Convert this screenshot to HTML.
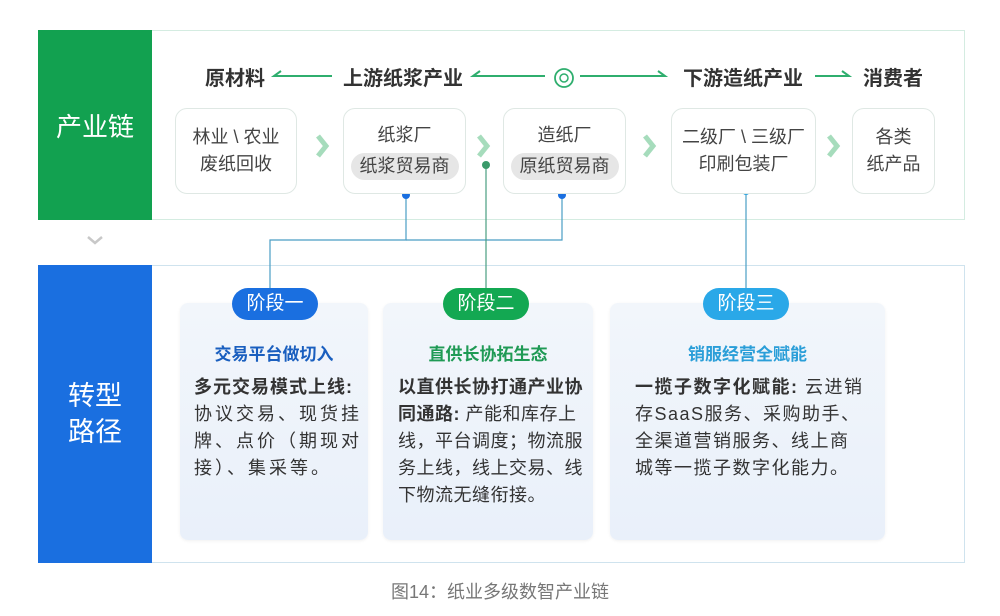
<!DOCTYPE html><html><head><meta charset="utf-8"><style>
*{margin:0;padding:0;box-sizing:border-box}
body{width:1000px;height:616px;background:#fff;position:relative;font-family:"Liberation Sans","Noto Sans CJK SC",sans-serif;overflow:hidden}
.a{position:absolute}
.box{position:absolute;border:1.5px solid #dfe8e4;border-radius:12px;background:#fff;text-align:center;font-size:18px;color:#444;line-height:27px;display:flex;flex-direction:column;justify-content:center;align-items:center;white-space:nowrap}
.pill{background:#e6e6e6;border-radius:14px;padding:0 9px;margin-top:4px}
.hd{position:absolute;top:62px;font-size:20px;font-weight:bold;color:#333}
.card{position:absolute;top:303px;height:237px;border-radius:8px;background:linear-gradient(#f2f6fb,#e9f0fa);box-shadow:0 1px 3px rgba(0,0,0,.06)}
.badge{position:absolute;top:288px;height:32px;border-radius:16px;color:#fff;font-size:19px;text-align:center;line-height:32px;width:86px}
.ttl{position:absolute;top:340px;font-size:17px;font-weight:bold;text-align:center}
.body{position:absolute;top:374px;font-size:18px;line-height:27px;color:#333;white-space:nowrap;letter-spacing:1px}
.dot{position:absolute;width:8px;height:8px;border-radius:50%}
</style></head><body>
<div class="a" style="left:38px;top:30px;width:114px;height:190px;background:#12a150;color:#fff;font-size:26px;display:flex;align-items:center;justify-content:center">产业链</div>
<div class="a" style="left:152px;top:30px;width:813px;height:190px;border:1.5px solid #d4ece1;border-left:none"></div>
<div class="a" style="left:38px;top:265px;width:114px;height:298px;background:#1a6fe0;color:#fff;font-size:27px;line-height:36px;display:flex;align-items:center;justify-content:center;text-align:center">转型<br>路径</div>
<div class="a" style="left:152px;top:265px;width:813px;height:298px;border:1.5px solid #cfe3ee;border-left:none"></div>

<div class="hd" style="left:205px">原材料</div>
<div class="hd" style="left:343px">上游纸浆产业</div>
<div class="hd" style="left:683px">下游造纸产业</div>
<div class="hd" style="left:863px">消费者</div>
<svg class="a" style="left:0;top:0" width="1000" height="616">
<polyline points="88,237 95,243 102,237" stroke="#c8c8c8" stroke-width="2.5" fill="none"/>
<g stroke="#2fae6e" stroke-width="2" fill="none">
<line x1="274" y1="76" x2="332" y2="76"/><polyline points="281,71 274,76 281,76"/>
<line x1="473" y1="76" x2="545" y2="76"/><polyline points="480,71 473,76 480,76"/>
<line x1="580" y1="76" x2="665" y2="76"/><polyline points="658,71 665,76 658,76"/>
<line x1="815" y1="76" x2="849" y2="76"/><polyline points="842,71 849,76 842,76"/>
<circle cx="564" cy="78" r="9" stroke-width="1.8"/><circle cx="564" cy="78" r="4" stroke-width="1.5"/>
</g>
<g stroke="#a6dcbc" stroke-width="5" fill="none" stroke-linecap="butt">
<polyline points="318,136 326,146 318,156"/>
<polyline points="479,136 487,146 479,156"/>
<polyline points="645,136 653,146 645,156"/>
<polyline points="829,136 837,146 829,156"/>
</g>
<g stroke="#4a9ec4" stroke-width="1.2" fill="none">
<polyline points="406,197 406,240 270,240 270,290"/>
<polyline points="562,197 562,240 406,240"/>
<line x1="746" y1="192" x2="746" y2="290"/>
</g>
<line x1="486" y1="165" x2="486" y2="290" stroke="#4a9e80" stroke-width="1.2"/>
</svg>
<div class="dot" style="left:402px;top:191px;background:#1a6fe0"></div>
<div class="dot" style="left:558px;top:191px;background:#1a6fe0"></div>
<div class="dot" style="left:482px;top:161px;background:#3a9a6a"></div>
<div class="dot" style="left:742px;top:187px;background:#2aa3e0"></div>

<div class="box" style="left:175px;top:108px;width:122px;height:86px">林业 \ 农业<br>废纸回收</div>
<div class="box" style="left:343px;top:108px;width:123px;height:86px">纸浆厂<div class="pill">纸浆贸易商</div></div>
<div class="box" style="left:503px;top:108px;width:123px;height:86px">造纸厂<div class="pill">原纸贸易商</div></div>
<div class="box" style="left:671px;top:108px;width:145px;height:86px">二级厂 \ 三级厂<br>印刷包装厂</div>
<div class="box" style="left:852px;top:108px;width:83px;height:86px">各类<br>纸产品</div>

<div class="card" style="left:180px;width:188px"></div>
<div class="card" style="left:383px;width:210px"></div>
<div class="card" style="left:610px;width:275px"></div>
<div class="badge" style="left:232px;background:#1a6fe0">阶段一</div>
<div class="badge" style="left:443px;background:#13a852">阶段二</div>
<div class="badge" style="left:703px;background:#2aa8e8">阶段三</div>
<div class="ttl" style="left:180px;width:188px;color:#1a5fbf">交易平台做切入</div>
<div class="ttl" style="left:383px;width:210px;color:#1f9a55">直供长协拓生态</div>
<div class="ttl" style="left:610px;width:275px;color:#2a9ed8">销服经营全赋能</div>
<div class="body" style="left:194px;letter-spacing:1px"><b>多元交易模式上线:</b><br><span style="letter-spacing:3px">协议交易、现货挂<br>牌、点价（期现对<br>接）、集采等。</span></div>
<div class="body" style="left:398px;letter-spacing:0.5px"><b>以直供长协打通产业协<br>同通路:</b> 产能和库存上<br>线，平台调度；物流服<br>务上线，线上交易、线<br>下物流无缝衔接。</div>
<div class="body" style="left:635px;letter-spacing:1.5px"><b>一揽子数字化赋能:</b> 云进销<br>存SaaS服务、采购助手、<br>全渠道营销服务、线上商<br>城等一揽子数字化能力。</div>
<div class="a" style="left:0;width:1000px;top:578px;text-align:center;font-size:18px;color:#777">图14：纸业多级数智产业链</div>
</body></html>
